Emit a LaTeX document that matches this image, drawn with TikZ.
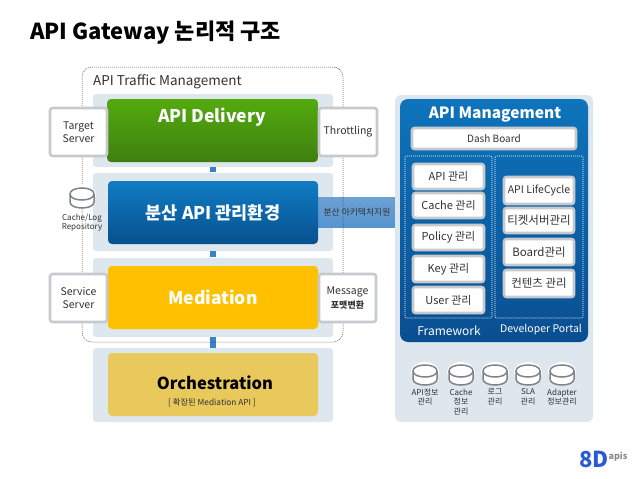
\documentclass[tikz,border=0pt]{standalone}
\usepackage{fontspec}
\setmainfont{Noto Sans CJK KR}
\usetikzlibrary{shapes.geometric}
\definecolor{bandgray}{RGB}{222,230,238}
\definecolor{edgegray}{RGB}{198,202,206}
\definecolor{cangray}{RGB}{128,132,136}
\definecolor{textgray}{RGB}{50,50,50}
\definecolor{greentop}{RGB}{84,170,14}
\definecolor{greenbot}{RGB}{62,128,16}
\definecolor{bluetop}{RGB}{16,124,196}
\definecolor{bluebot}{RGB}{7,80,142}
\definecolor{paneltop}{RGB}{14,116,188}
\definecolor{panelbot}{RGB}{10,78,145}
\definecolor{medyellow}{RGB}{255,192,0}
\definecolor{orchyellow}{RGB}{233,200,92}
\definecolor{linkblue}{RGB}{58,130,198}
\tikzset{
  band/.style={fill=bandgray,rounded corners=3pt,inner sep=0pt},
  layer/.style={rounded corners=4pt,inner sep=0pt,font=\fontsize{17.5}{21}\bfseries},
  whitebox/.style={draw=edgegray,line width=2.6pt,fill=white,rounded corners=2.5pt,inner sep=0pt,
    align=center,text=textgray,font=\fontsize{11}{14}\selectfont},
  sidebox/.style={whitebox,font=\fontsize{10.5}{13.5}\selectfont},
  portalbox/.style={whitebox,font=\fontsize{11.5}{14}\selectfont},
  linkbox/.style={fill=linkblue,inner sep=0pt},
  dbtext/.style={inner sep=0pt,align=center,text=textgray,font=\fontsize{8}{9.5}\selectfont},
  whitetext/.style={inner sep=0pt,text=white}
}
% box from its two corners, in pixels of the slide
\newcommand{\drawbox}[7]{
  \node[#6,minimum width=#4pt-#2pt,minimum height=#5pt-#3pt] (#1) at ({(#2+#4)/2},{(#3+#5)/2}) {#7};
}
% can with a name under it
\newcommand{\drawcan}[5]{
  \fill[white] (#2,#3+5) ellipse (14 and 10);
  \draw[cangray,line width=1.5pt,fill=white] (#2-12,#3+4) -- (#2-12,#3+12)
    .. controls (#2-12,#3+20) and (#2+12,#3+20) .. (#2+12,#3+12) -- (#2+12,#3+4)
    .. controls (#2+12,#3-4) and (#2-12,#3-4) .. (#2-12,#3+4) -- cycle;
  \draw[cangray,line width=1.5pt] (#2-12,#3+4) .. controls (#2-12,#3+12) and (#2+12,#3+12) .. (#2+12,#3+4);
  \node[dbtext,anchor=north] (#1) at (#2,#3+#4) {#5};
}

\begin{document}
\begin{tikzpicture}[x=1pt,y=-1pt]
  \useasboundingbox (0,0) rectangle (638,479);
  \node[inner sep=0pt,anchor=west,font=\fontsize{22}{25}\bfseries] (title) at (30,33) {API Gateway 논리적 구조};

  \node[inner sep=0pt,anchor=west,text=textgray,font=\fontsize{13.5}{16}\selectfont] (traffic) at (93,82) {API Traffic Management};

  \drawbox{deliveryband}{93}{94}{333}{167}{band}{}
  \drawbox{clusterband}{93}{173}{333}{251}{band}{}
  \drawbox{mediationband}{93}{258}{333}{337}{band}{}
  \drawbox{orchband}{93}{348}{333}{422}{band}{}

  \drawbox{linkone}{210}{167}{216}{172}{linkbox}{}
  \drawbox{linktwo}{210}{251}{216}{257}{linkbox}{}
  \drawbox{linkthree}{210}{337}{216}{348}{linkbox}{}

  \node[inner sep=0pt,minimum width=80pt,minimum height=30pt,top color=linkblue!75!white,bottom color=linkblue!85!white] (archband) at (358,212) {};
  \draw[black!70,line width=.5pt,dash pattern=on 1pt off 1pt,rounded corners=10pt] (82,67) rectangle (343,342);
  \node[inner sep=0pt,text=textgray,font=\fontsize{8.8}{10}\selectfont] (archtext) at (357,212) {분산 아키텍처지원};

  \drawbox{delivery}{107}{99}{318}{162}{layer,top color=greentop,bottom color=greenbot}{}
  \node[whitetext,font=\fontsize{17.5}{21}\bfseries] (deliverytext) at (212,117) {API Delivery};
  \drawbox{cluster}{108}{181}{318}{244}{layer,top color=bluetop,bottom color=bluebot,text=white}{분산 API 관리환경}
  \drawbox{mediation}{108}{266}{318}{329}{layer,fill=medyellow,text=white}{Mediation}
  \drawbox{orch}{108}{353}{318}{416}{layer,fill=orchyellow}{}
  \node[inner sep=0pt,font=\fontsize{16.5}{20}\bfseries] (orchtext) at (215,383) {Orchestration};
  \node[inner sep=0pt,text=textgray,font=\fontsize{8.3}{10}\selectfont] (orchsub) at (212,403) {[ 확장된 Mediation API ]};

  \drawbox{target}{50}{108}{107}{156}{sidebox}{Target\\Server}
  \drawbox{throttling}{319}{108}{377}{156}{sidebox}{Throttling}
  \drawbox{service}{50}{274}{107}{322}{sidebox}{Service\\Server}
  \drawbox{message}{319}{274}{376}{322}{sidebox}{Message\\{\bfseries\fontsize{9}{11}\selectfont 포맷변환}}

  \drawcan{cachelog}{82}{190}{23.5}{Cache/Log\\Repository}

  % right side
  \drawbox{mgmtband}{395}{95}{593}{422}{band,rounded corners=6pt}{}
  \drawbox{mgmt}{400}{99}{588}{342}{rounded corners=8pt,inner sep=0pt,top color=paneltop,bottom color=panelbot}{}
  \node[whitetext,font=\fontsize{15.5}{18}\bfseries] (mgmttext) at (495,115) {API Management};
  \drawbox{dash}{412}{128}{576}{149}{whitebox,font=\fontsize{10}{12}\selectfont}{Dash Board}

  \draw[white,line width=.6pt,dash pattern=on 1pt off 1pt,rounded corners=1pt] (405,156) rectangle (492,318);
  \draw[white,line width=.6pt,dash pattern=on 1pt off 1pt,rounded corners=1pt] (495,156) rectangle (583,318);

  \drawbox{apibox}{413}{164}{484}{189}{whitebox}{API 관리}
  \drawbox{cachebox}{413}{193}{484}{218}{whitebox}{Cache 관리}
  \drawbox{policybox}{413}{225}{484}{250}{whitebox}{Policy 관리}
  \drawbox{keybox}{413}{256}{484}{282}{whitebox}{Key 관리}
  \drawbox{userbox}{413}{287}{484}{313}{whitebox}{User 관리}

  \drawbox{lifebox}{504}{177}{574}{204}{sidebox}{API LifeCycle}
  \drawbox{ticketbox}{504}{208}{574}{233}{portalbox}{티켓서버관리}
  \drawbox{boardbox}{504}{239}{574}{265}{portalbox}{Board관리}
  \drawbox{contentbox}{504}{270}{574}{297}{portalbox}{컨텐츠 관리}

  \node[whitetext,font=\fontsize{12}{14}\selectfont] (framework) at (449,331) {Framework};
  \node[whitetext,font=\fontsize{10.5}{13}\selectfont] (portal) at (541,330) {Developer Portal};

  \drawcan{apidb}{425}{367}{21.5}{API정보\\관리}
  \drawcan{cachedb}{461}{367}{21.5}{Cache\\정보\\관리}
  \drawcan{logdb}{495}{367}{21.5}{로그\\관리}
  \drawcan{sladb}{528}{367}{21.5}{SLA\\관리}
  \drawcan{adapterdb}{562}{367}{21.5}{Adapter\\정보관리}

  % logo
  \node[inner sep=0pt,text=linkblue!70!blue,font=\fontsize{22}{26}\bfseries] (logomark) at (594,459) {8D};
  \node[inner sep=0pt,text=black!45,font=\fontsize{9}{11}\bfseries\itshape] (logotext) at (618,457) {apis};
\end{tikzpicture}
\end{document}
